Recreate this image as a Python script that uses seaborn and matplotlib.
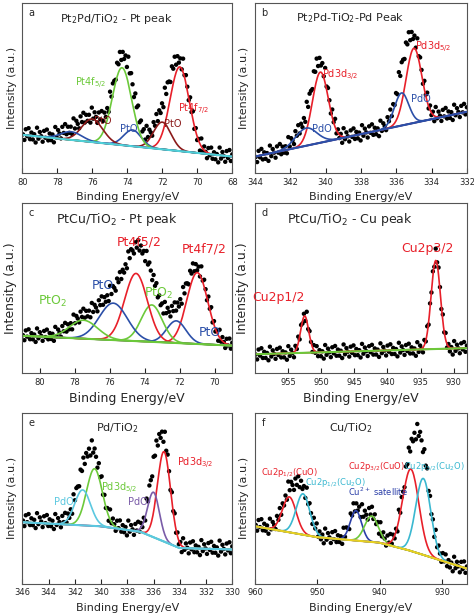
import numpy as np
import pandas as pd
import seaborn as sns
import matplotlib.pyplot as plt

sns.set_style("ticks")
plt.rcParams["font.family"] = ["DejaVu Sans"]

# panel data: x range, baseline knots, fitted peaks (center, height, sigma, colour, label, label x, label y, ha)
xlim_a = (80, 68); base_a = ([80, 68], [0.28, 0.12])
peaks_a = [(71.0, 0.62, 0.55, "#e8202a", "Pt4f$_{7/2}$", 70.2, 0.45, "center"),
           (72.0, 0.20, 0.50, "#8b1a1a", "PtO", 71.4, 0.34, "center"),
           (73.7, 0.12, 0.50, "#2b4fa8", "PtO", 73.9, 0.30, "center"),
           (74.3, 0.57, 0.55, "#6cc93a", "Pt4f$_{5/2}$", 76.1, 0.64, "center"),
           (76.0, 0.17, 0.60, "#8b1a1a", "PtO", 75.4, 0.36, "center"),
           (77.2, 0.06, 0.60, "#2b4fa8", "", 0, 0, "center")]
xlim_b = (344, 332); base_b = ([344, 332], [0.12, 0.45])
peaks_b = [(340.3, 0.52, 0.45, "#e8202a", "Pd3d$_{3/2}$", 339.2, 0.70, "center"),
           (341.1, 0.13, 0.60, "#2b4fa8", "PdO", 340.2, 0.30, "center"),
           (335.0, 0.55, 0.45, "#e8202a", "Pd3d$_{5/2}$", 333.9, 0.90, "center"),
           (335.7, 0.24, 0.40, "#2b4fa8", "PdO", 334.6, 0.52, "center")]
xlim_c = (81, 69); base_c = ([81, 69], [0.30, 0.22])
peaks_c = [(71.0, 0.58, 0.60, "#e8202a", "Pt4f7/2", 70.6, 0.98, "center"),
           (72.2, 0.18, 0.55, "#2b4fa8", "PtO", 70.3, 0.30, "center"),
           (73.6, 0.30, 0.60, "#6cc93a", "PtO$_2$", 73.2, 0.62, "center"),
           (74.5, 0.55, 0.65, "#e8202a", "Pt4f5/2", 74.3, 1.03, "center"),
           (75.8, 0.30, 0.80, "#2b4fa8", "PtO", 76.4, 0.68, "center"),
           (77.5, 0.15, 0.80, "#6cc93a", "PtO$_2$", 79.3, 0.55, "center")]
xlim_d = (960, 928); base_d = ([960, 928], [0.15, 0.20])
peaks_d = [(952.5, 0.30, 0.60, "#e8202a", "Cu2p1/2", 956.5, 0.58, "center"),
           (932.7, 0.72, 0.70, "#e8202a", "Cu2p3/2", 934.0, 0.98, "center")]
xlim_e = (346, 330); base_e = ([346, 340, 337, 334, 330], [0.45, 0.42, 0.38, 0.26, 0.25])
peaks_e = [(335.2, 0.66, 0.50, "#e8202a", "Pd3d$_{3/2}$", 332.8, 0.86, "center"),
           (336.0, 0.33, 0.45, "#7a5ca8", "PdO", 337.2, 0.58, "center"),
           (340.5, 0.42, 0.60, "#6cc93a", "Pd3d$_{5/2}$", 338.6, 0.68, "center"),
           (341.4, 0.26, 0.60, "#5bc8e0", "PdO", 342.8, 0.58, "center")]
xlim_f = (960, 926); base_f = ([960, 950, 940, 935, 926], [0.42, 0.34, 0.30, 0.24, 0.11])
peaks_f = [(954.5, 0.26, 1.10, "#e8202a", "Cu2p$_{1/2}$(CuO)", 959.0, 0.80, "left"),
           (952.3, 0.30, 1.10, "#3ab8d0", "Cu2p$_{1/2}$(Cu$_2$O)", 952.0, 0.72, "left"),
           (943.8, 0.22, 0.90, "#2b3fa8", "Cu$^{2+}$ satellite", 945.0, 0.64, "left"),
           (941.3, 0.19, 1.10, "#6cc93a", "", 0, 0, "left"),
           (935.0, 0.60, 1.30, "#e8202a", "Cu2p$_{3/2}$(CuO)", 936.0, 0.84, "right"),
           (933.0, 0.56, 1.20, "#3ab8d0", "Cu2p$_{3/2}$(Cu$_2$O)", 926.3, 0.84, "right")]
jitter = [0.02, -0.03, 0.05, -0.01, 0.04, -0.04, 0.00, 0.03, -0.02, 0.06, -0.05, 0.01, -0.03]
panels = [("a", "Pt$_2$Pd/TiO$_2$ - Pt peak", xlim_a, base_a, peaks_a, [80, 78, 76, 74, 72, 70, 68], "#4fd0d8"),
          ("b", "Pt$_2$Pd-TiO$_2$-Pd Peak", xlim_b, base_b, peaks_b, [344, 342, 340, 338, 336, 334, 332], "#2b4fa8"),
          ("c", "PtCu/TiO$_2$ - Pt peak", xlim_c, base_c, peaks_c, [80, 78, 76, 74, 72, 70], "#6cc93a"),
          ("d", "PtCu/TiO$_2$ - Cu peak", xlim_d, base_d, peaks_d, [955, 950, 945, 940, 935, 930], "#6cc93a"),
          ("e", "Pd/TiO$_2$", xlim_e, base_e, peaks_e, list(range(346, 329, -2)), "#5bc8e0"),
          ("f", "Cu/TiO$_2$", xlim_f, base_f, peaks_f, [960, 950, 940, 930], "#e8d020")]
boxes = [(0.047, 0.718, 0.443, 0.277), (0.538, 0.718, 0.447, 0.277),
         (0.047, 0.392, 0.443, 0.277), (0.538, 0.392, 0.447, 0.277),
         (0.047, 0.048, 0.443, 0.278), (0.538, 0.048, 0.447, 0.278)]

fig = plt.figure(figsize=(4.74, 6.13), dpi=100)
big = [False, False, True, True, False, False]
for (tag, title, xl, base, peaks, ticks, bcol), box, bg in zip(panels, boxes, big):
    ax = fig.add_axes(box)
    x = np.linspace(min(xl), max(xl), 300)
    b = np.interp(x, base[0][::-1], base[1][::-1])
    total = b.copy()
    for c, h, s, col, lab, lx, ly, ha in peaks:
        comp = h * np.exp(-0.5 * ((x - c) / s) ** 2)
        total += comp
        sns.lineplot(x=x, y=b + comp, color=col, lw=1.2, ax=ax)
        if lab:
            ax.text(lx, ly, lab, color=col, fontsize=9 if bg else (6 if tag == "f" else 7), ha=ha)
    sns.lineplot(x=x, y=b, color=bcol, lw=1.5, ax=ax)
    xs = x[::2]
    pts = np.interp(xs, x, total) * 1.05 - 0.01 + np.resize(jitter, len(xs))
    sns.scatterplot(x=xs, y=pts, color="black", s=10, edgecolor="none", ax=ax)
    ax.set_xlim(xl)
    ax.set_ylim(0, 1.38 if bg else 1.25)
    ax.set_xticks(ticks)
    ax.tick_params(axis="x", labelsize=6, direction="in")
    ax.set_yticks([])
    ax.set_ylabel("Intensity (a.u.)", fontsize=9 if bg else 8)
    ax.set_xlabel("Binding Energy/eV", fontsize=9 if bg else 8)
    ax.text(0.03, 0.97, tag, transform=ax.transAxes, fontsize=7, va="top")
    ax.text(0.45, 0.95, title, transform=ax.transAxes, fontsize=9 if bg else 8, ha="center", va="top")
    for sp in ax.spines.values():
        sp.set_visible(True)
        sp.set_color("#555555")

fig.savefig("out.png", dpi=100)
